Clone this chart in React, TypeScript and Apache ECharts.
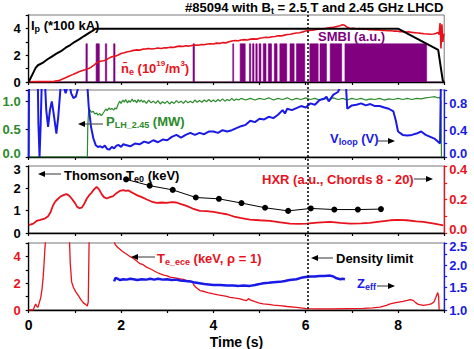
import React, { useEffect, useRef } from "react";
import * as echarts from "echarts";

const FONT = "'Liberation Sans', Arial, sans-serif";
const RED = "#e8121c";
const BLUE = "#1a1ae6";
const GREEN = "#2b8a2b";
const PURPLE = "#800080";
const BLACK = "#000000";

// ---------- data (time in s) ----------
const ipData = [
  [0, 0], [0.05, 0.35], [0.1, 0.7], [0.15, 1.05], [0.2, 1.25], [0.3, 1.42], [0.4, 1.68], [0.5, 1.9],
  [0.6, 2.12], [0.7, 2.3], [0.8, 2.56], [0.9, 2.76], [1.0, 3.0], [1.1, 3.2], [1.2, 3.43], [1.3, 3.65],
  [1.38, 3.82], [1.45, 3.98], [3, 3.98], [6, 3.98], [8.0, 3.98], [8.87, 2.4], [8.93, 1.0], [8.97, 0.1], [9.0, 0],
];

const neData = [
  [0, 0.02], [0.2, 0.03], [0.4, 0.03], [0.55, 0.05], [0.65, 0.1], [0.72, 0.2], [0.8, 0.32], [0.88, 0.45],
  [0.95, 0.55], [1.02, 0.66], [1.1, 0.78], [1.17, 0.86], [1.22, 0.92], [1.3, 1.0], [1.36, 1.12], [1.42, 1.28],
  [1.48, 1.45], [1.55, 1.55], [1.62, 1.58], [1.68, 1.65], [1.74, 1.78], [1.8, 1.88], [1.87, 1.93], [1.94, 2.02],
  [2.0, 2.12], [2.07, 2.18], [2.14, 2.26], [2.2, 2.3], [2.27, 2.36], [2.34, 2.4], [2.4, 2.38], [2.47, 2.45],
  [2.54, 2.47], [2.6, 2.5], [2.67, 2.46], [2.74, 2.5], [2.8, 2.54], [2.87, 2.5], [2.94, 2.56], [3.0, 2.55],
  [3.07, 2.6], [3.14, 2.58], [3.2, 2.64], [3.27, 2.68], [3.34, 2.65], [3.4, 2.7], [3.47, 2.68], [3.54, 2.73],
  [3.6, 2.76], [3.67, 2.74], [3.74, 2.8], [3.8, 2.78], [3.87, 2.84], [3.94, 2.86], [4.0, 2.84], [4.07, 2.9],
  [4.14, 2.88], [4.2, 2.94], [4.27, 2.92], [4.34, 3.0], [4.4, 3.06], [4.47, 3.1], [4.54, 3.08], [4.6, 3.13],
  [4.67, 3.16], [4.74, 3.14], [4.8, 3.2], [4.87, 3.22], [4.94, 3.2], [5.0, 3.27], [5.07, 3.3], [5.14, 3.34],
  [5.2, 3.32], [5.27, 3.38], [5.34, 3.4], [5.4, 3.45], [5.47, 3.44], [5.54, 3.5], [5.6, 3.54], [5.67, 3.56],
  [5.74, 3.62], [5.8, 3.66], [5.87, 3.68], [5.94, 3.74], [6.0, 3.8], [6.07, 3.84], [6.14, 3.86], [6.2, 3.9],
  [6.27, 3.94], [6.34, 3.96], [6.4, 3.98], [6.47, 4.02], [6.54, 4.06], [6.6, 4.08], [6.67, 4.14], [6.74, 4.2],
  [6.8, 4.28], [6.84, 4.24], [6.9, 4.08], [6.97, 3.98], [7.04, 4.0], [7.1, 3.96], [7.17, 3.98], [7.24, 3.93],
  [7.3, 3.95], [7.37, 3.9], [7.44, 3.92], [7.5, 3.88], [7.57, 3.9], [7.64, 3.85], [7.7, 3.86], [7.77, 3.82],
  [7.84, 3.83], [7.9, 3.8], [7.97, 3.8], [8.04, 3.76], [8.1, 3.77], [8.17, 3.73], [8.24, 3.74], [8.3, 3.7],
  [8.37, 3.68], [8.44, 3.66], [8.5, 3.63], [8.57, 3.6], [8.64, 3.58], [8.7, 3.56], [8.77, 3.58], [8.82, 3.62],
  [8.86, 3.7], [8.89, 3.55], [8.91, 4.4], [8.93, 2.5], [8.95, 4.3], [8.97, 3.0], [8.99, 3.6],
];

const smbiStart = [1.24, 1.46, 1.66, 1.84, 3.56, 4.42, 4.58, 4.78, 4.85, 4.92, 4.99, 5.08, 5.19, 5.32, 5.44, 5.66, 5.8, 6.09, 6.31, 6.53, 6.85];
const smbiEnd = [1.27, 1.53, 1.69, 1.87, 3.59, 4.44, 4.69, 4.81, 4.88, 4.95, 5.03, 5.14, 5.26, 5.38, 5.59, 5.75, 5.98, 6.27, 6.45, 6.78, 8.62];
const smbiLevel = 2.85;

const pLhData = [
  [0, 0], [1.27, 0], [1.28, 0.55], [1.3, 0.86], [1.33, 0.84], [1.36, 0.8], [1.4, 0.82], [1.43, 0.77], [1.47, 0.79],
  [1.5, 0.75], [1.54, 0.78], [1.57, 0.74], [1.6, 0.77], [1.64, 0.82], [1.67, 0.86], [1.7, 0.83], [1.74, 0.88],
  [1.77, 0.85], [1.8, 0.87], [1.84, 0.84], [1.87, 0.88], [1.9, 0.86], [1.94, 0.95], [1.97, 1.0], [2.0, 0.96],
  [2.04, 1.02], [2.07, 0.98], [2.1, 1.03], [2.14, 0.97], [2.17, 1.01], [2.2, 0.98], [2.24, 1.04], [2.27, 0.99],
  [2.3, 1.02], [2.34, 0.97], [2.37, 1.03], [2.4, 0.99], [2.44, 1.02], [2.47, 0.98], [2.5, 1.01], [2.55, 0.96],
  [2.6, 1.02], [2.65, 0.97], [2.7, 1.0], [2.75, 0.96], [2.8, 1.01], [2.85, 0.95], [2.9, 0.99], [2.95, 0.96],
  [3.0, 1.0], [3.05, 0.95], [3.1, 0.99], [3.15, 0.96], [3.2, 1.01], [3.25, 0.97], [3.3, 1.0], [3.35, 0.96],
  [3.4, 1.01], [3.45, 0.97], [3.5, 1.0], [3.55, 0.97], [3.6, 1.02], [3.65, 0.98], [3.7, 1.01], [3.75, 0.98],
  [3.8, 1.02], [3.85, 0.99], [3.9, 1.03], [3.95, 0.99], [4.0, 1.02], [4.05, 0.99], [4.1, 1.03], [4.15, 1.0],
  [4.2, 1.04], [4.25, 1.0], [4.3, 1.03], [4.35, 1.01], [4.4, 1.05], [4.45, 1.01], [4.5, 1.04], [4.55, 1.02],
  [4.6, 1.05], [4.7, 1.02], [4.8, 1.05], [4.9, 1.02], [5.0, 1.05], [5.1, 1.03], [5.2, 1.06], [5.3, 1.02],
  [5.4, 1.05], [5.5, 1.03], [5.6, 1.06], [5.7, 1.02], [5.8, 1.05], [5.9, 1.03], [6.0, 1.06], [6.1, 1.03],
  [6.2, 1.05], [6.3, 1.02], [6.4, 1.05], [6.5, 1.03], [6.6, 1.06], [6.7, 1.03], [6.8, 1.05], [6.9, 1.02],
  [7.0, 1.05], [7.1, 1.03], [7.2, 1.05], [7.3, 1.02], [7.4, 1.04], [7.5, 1.03], [7.6, 1.05], [7.7, 1.02],
  [7.8, 1.04], [7.9, 1.03], [8.0, 1.05], [8.1, 1.03], [8.2, 1.05], [8.3, 1.03], [8.4, 1.05], [8.5, 1.04],
  [8.6, 1.06], [8.7, 1.07], [8.8, 1.08], [8.85, 1.06], [8.9, 1.07], [8.93, 1.0], [8.94, 0],
];

const vLoopData = [
  [0, 0], [0.01, 1.5], [0.19, 1.5], [0.21, 0.5], [0.235, 0], [0.26, 0.5], [0.29, 1.3], [0.34, 1.3], [0.38, 0.7],
  [0.42, 0.45], [0.46, 0.7], [0.5, 0.83], [0.54, 0.65], [0.6, 0.35], [0.64, 0.6], [0.68, 0.95], [0.72, 1.3],
  [0.76, 1.05], [0.8, 0.95], [0.84, 1.05], [0.88, 1.1], [0.92, 0.95], [0.97, 0.88], [1.02, 0.9], [1.06, 1.0],
  [1.1, 1.3], [1.25, 1.3], [1.3, 0.75], [1.35, 0.45], [1.4, 0.28], [1.45, 0.18], [1.5, 0.15], [1.55, 0.16],
  [1.6, 0.14], [1.65, 0.17], [1.7, 0.12], [1.75, 0.11], [1.8, 0.15], [1.85, 0.13], [1.9, 0.17], [1.95, 0.18],
  [2.0, 0.15], [2.05, 0.19], [2.1, 0.18], [2.2, 0.16], [2.3, 0.2], [2.4, 0.19], [2.5, 0.23], [2.6, 0.21],
  [2.7, 0.25], [2.8, 0.22], [2.9, 0.26], [3.0, 0.25], [3.1, 0.3], [3.2, 0.33], [3.3, 0.29], [3.4, 0.33],
  [3.5, 0.36], [3.6, 0.33], [3.7, 0.36], [3.8, 0.34], [3.9, 0.38], [4.0, 0.38], [4.1, 0.36], [4.2, 0.4],
  [4.3, 0.38], [4.4, 0.4], [4.5, 0.43], [4.6, 0.46], [4.7, 0.48], [4.8, 0.54], [4.9, 0.52], [5.0, 0.57],
  [5.1, 0.56], [5.2, 0.6], [5.3, 0.58], [5.4, 0.63], [5.5, 0.7], [5.55, 0.65], [5.6, 0.72], [5.7, 0.7],
  [5.8, 0.73], [5.9, 0.76], [6.0, 0.74], [6.1, 0.8], [6.2, 0.78], [6.3, 0.85], [6.4, 0.87], [6.45, 0.9],
  [6.5, 0.83], [6.6, 0.93], [6.7, 0.97], [6.78, 1.1], [6.87, 1.1], [6.9, 0.72], [7.0, 0.77], [7.1, 0.78],
  [7.2, 0.8], [7.3, 0.77], [7.4, 0.79], [7.5, 0.76], [7.6, 0.76], [7.7, 0.74], [7.8, 0.72], [7.9, 0.68],
  [7.95, 0.55], [8.0, 0.38], [8.1, 0.33], [8.2, 0.32], [8.3, 0.33], [8.4, 0.35], [8.5, 0.38], [8.6, 0.33],
  [8.7, 0.3], [8.8, 0.27], [8.88, 0.22], [8.91, 0.2], [8.93, 1.2],
];

const thomsonTime = [2.11, 2.62, 3.12, 3.62, 4.12, 4.61, 5.12, 5.62, 6.11, 6.62, 7.13, 7.63];
const thomsonTe0 = [2.4, 2.12, 1.93, 1.59, 1.53, 1.34, 1.13, 0.99, 1.1, 1.05, 1.05, 1.07];

const hxrData = [
  [0, 0.046], [0.05, 0.052], [0.1, 0.056], [0.17, 0.072], [0.25, 0.078], [0.35, 0.086], [0.42, 0.1],
  [0.47, 0.122], [0.52, 0.16], [0.57, 0.186], [0.62, 0.2], [0.68, 0.216], [0.75, 0.226], [0.82, 0.232],
  [0.88, 0.222], [0.93, 0.206], [1.0, 0.18], [1.05, 0.156], [1.1, 0.148], [1.15, 0.152], [1.2, 0.172],
  [1.26, 0.206], [1.31, 0.226], [1.36, 0.24], [1.42, 0.262], [1.47, 0.276], [1.52, 0.262], [1.58, 0.232],
  [1.63, 0.214], [1.69, 0.206], [1.76, 0.214], [1.83, 0.22], [1.9, 0.238], [1.98, 0.252], [2.05, 0.256],
  [2.1, 0.252], [2.16, 0.254], [2.22, 0.244], [2.28, 0.236], [2.34, 0.226], [2.45, 0.214], [2.56, 0.2],
  [2.66, 0.188], [2.77, 0.18], [2.88, 0.182], [2.99, 0.18], [3.1, 0.184], [3.2, 0.182], [3.3, 0.172],
  [3.42, 0.162], [3.55, 0.146], [3.71, 0.132], [3.85, 0.13], [4.0, 0.126], [4.15, 0.118], [4.29, 0.112],
  [4.36, 0.106], [4.45, 0.098], [4.58, 0.09], [4.7, 0.084], [4.79, 0.08], [5.0, 0.076], [5.23, 0.072],
  [5.45, 0.064], [5.66, 0.056], [5.85, 0.055], [6.02, 0.056], [6.25, 0.062], [6.53, 0.066], [6.75, 0.06],
  [6.96, 0.056], [7.2, 0.058], [7.39, 0.06], [7.6, 0.068], [7.83, 0.076], [8.0, 0.078], [8.19, 0.076],
  [8.4, 0.07], [8.55, 0.066], [8.75, 0.058], [8.9, 0.05], [8.98, 0.046],
];

const teEceData = [
  [0, 0], [0.1, 0], [0.13, 0.3], [0.15, 0.45], [0.18, 0.25], [0.2, 0.2], [0.23, 0.55], [0.26, 0.9], [0.29, 1.6],
  [0.31, 2.3], [0.33, 3.3], [0.35, 4.5], [0.37, 5.5], [0.88, 5.5], [0.9, 3.5], [0.93, 2.1], [0.97, 1.68],
  [1.02, 1.35], [1.08, 1.05], [1.13, 0.78], [1.18, 0.55], [1.23, 0.42], [1.27, 0.3], [1.29, 0.6], [1.31, 5.5],
  [1.83, 5.5], [1.87, 4.9], [1.92, 4.7], [1.97, 4.55], [2.02, 4.4], [2.08, 4.25], [2.14, 4.12], [2.2, 3.98],
  [2.27, 3.85], [2.34, 3.65], [2.41, 3.46], [2.48, 3.38], [2.55, 3.2], [2.63, 3.08], [2.7, 2.95], [2.78, 2.8],
  [2.85, 2.7], [2.93, 2.6], [3.0, 2.55], [3.06, 2.45], [3.13, 2.42], [3.2, 2.38], [3.28, 2.33], [3.35, 2.28],
  [3.42, 2.2], [3.5, 2.15], [3.55, 2.1], [3.58, 1.85], [3.62, 1.7], [3.71, 1.45], [3.8, 1.38], [3.9, 1.28],
  [4.0, 1.2], [4.1, 1.13], [4.2, 1.08], [4.29, 1.02], [4.36, 0.95], [4.45, 0.9], [4.58, 0.83], [4.65, 0.75],
  [4.72, 0.7], [4.76, 0.85], [4.8, 0.75], [4.9, 0.62], [5.0, 0.52], [5.08, 0.45], [5.2, 0.42], [5.3, 0.36],
  [5.44, 0.32], [5.6, 0.26], [5.8, 0.2], [6.02, 0.1], [6.3, 0.08], [6.53, 0.08], [6.9, 0.1], [7.25, 0.12],
  [7.45, 0.16], [7.61, 0.22], [7.75, 0.35], [7.83, 0.45], [7.95, 0.55], [8.11, 0.65], [8.2, 0.72], [8.26, 0.77],
  [8.33, 0.72], [8.38, 0.55], [8.44, 0.42], [8.55, 0.35], [8.65, 0.4], [8.72, 0.45], [8.78, 0.62], [8.82, 0.95],
  [8.86, 1.3], [8.88, 1.0], [8.89, 0],
];

const zeffData = [
  [1.85, 1.64], [1.88, 1.72], [1.92, 1.7], [1.98, 1.67], [2.05, 1.69], [2.12, 1.68], [2.2, 1.7], [2.27, 1.69],
  [2.35, 1.67], [2.45, 1.69], [2.55, 1.68], [2.63, 1.7], [2.72, 1.68], [2.8, 1.7], [2.9, 1.68], [2.99, 1.69],
  [3.1, 1.67], [3.2, 1.68], [3.28, 1.66], [3.4, 1.65], [3.5, 1.64], [3.57, 1.62], [3.7, 1.6], [3.8, 1.58],
  [3.9, 1.57], [4.0, 1.56], [4.15, 1.56], [4.3, 1.55], [4.43, 1.55], [4.55, 1.54], [4.65, 1.55], [4.79, 1.54],
  [4.9, 1.56], [5.0, 1.58], [5.08, 1.6], [5.2, 1.61], [5.3, 1.62], [5.44, 1.63], [5.55, 1.65], [5.65, 1.67],
  [5.8, 1.69], [5.9, 1.72], [6.0, 1.74], [6.1, 1.75], [6.2, 1.75], [6.3, 1.76], [6.4, 1.76], [6.53, 1.77],
  [6.6, 1.75], [6.67, 1.71], [6.75, 1.69], [6.8, 1.7], [6.85, 1.69],
];

const densityLimitTime = 6.05;
const timeMax = 9;

// ---------- layout ----------
const GRID_LEFT = 28.7;
const GRID_WIDTH = 415.5;
const GRID_TOPS = [15, 90, 166, 243];
const GRID_HEIGHT = 67;

// 'lo' nudges the lowest label up, 'hi' nudges the highest label down
const fmt = (step: number, dec: number, min: number, maxLabel: number, shiftLo = false, shiftHi = false) => (v: number) => {
  const r = v / step;
  if (!(Math.abs(r - Math.round(r)) < 1e-6 && v <= maxLabel + 1e-9)) return "";
  const s = v.toFixed(dec);
  if (shiftLo && Math.abs(v - min) < 1e-9) return `{lo|${s}}`;
  if (shiftHi && Math.abs(v - maxLabel) < 1e-9) return `{hi|${s}}`;
  return s;
};

const labelFont = { fontFamily: FONT, fontWeight: "bold", fontSize: 13 };

function yAx(grid: number, pos: "left" | "right", min: number, max: number, interval: number,
  formatter: (v: number) => string, labelColor: string, lineColor: string) {
  return {
    type: "value",
    gridIndex: grid,
    position: pos,
    min, max, interval,
    axisLine: { show: true, onZero: false, lineStyle: { color: lineColor, width: 1.3 } },
    axisTick: { show: true, inside: false, length: 3, lineStyle: { color: lineColor, width: 1.2 } },
    splitLine: { show: false },
    axisLabel: {
      ...labelFont, color: labelColor, margin: pos === "left" ? 8 : 5, formatter,
      rich: {
        lo: { ...labelFont, color: labelColor, padding: [0, 0, 7, 0] },
        hi: { ...labelFont, color: labelColor, padding: [7, 0, 0, 0] },
      },
    },
  };
}

function xAx(grid: number, showLabels: boolean) {
  return {
    type: "value",
    gridIndex: grid,
    min: 0, max: timeMax, interval: 1,
    axisLine: { show: true, onZero: false, lineStyle: { color: BLACK, width: 1.3 } },
    axisTick: { show: true, inside: false, length: 3, lineStyle: { color: BLACK, width: 1.2 } },
    splitLine: { show: false },
    axisLabel: {
      show: showLabels, ...labelFont, fontSize: 14, color: BLACK, margin: 8,
      formatter: (v: number) => (v % 2 === 0 && v < 9 ? String(v) : ""),
    },
    name: showLabels ? "Time (s)" : "",
    nameLocation: "middle",
    nameGap: 25,
    nameTextStyle: { color: BLACK, fontFamily: FONT, fontWeight: "bold", fontSize: 14 },
  };
}

const rich = {
  s: { fontSize: 9, fontWeight: "bold", fontFamily: FONT, verticalAlign: "bottom", lineHeight: 10 },
  u: { fontSize: 8, fontWeight: "bold", fontFamily: FONT, verticalAlign: "top", lineHeight: 9 },
};

function txt(id: string, x: number, y: number, text: string, fill: string, size = 13) {
  return {
    id, type: "text", x, y, silent: true, z: 50,
    style: {
      text, fill, fontFamily: FONT, fontWeight: "bold", fontSize: size, lineHeight: 17,
      align: "left", verticalAlign: "middle", rich,
    },
  };
}

function arrow(id: string, x1: number, y: number, x2: number) {
  const dir = Math.sign(x2 - x1);
  return [
    { id: id + "l", type: "line", silent: true, z: 50, shape: { x1, y1: y, x2: x2 - dir * 5, y2: y }, style: { stroke: "#555", lineWidth: 1.2 } },
    { id: id + "h", type: "polygon", silent: true, z: 50, shape: { points: [[x2, y], [x2 - dir * 7, y - 3], [x2 - dir * 7, y + 3]] }, style: { fill: BLACK } },
  ];
}

function buildSmbi() {
  const d: number[][] = [[0, 0]];
  smbiStart.forEach((s, i) => {
    d.push([s, 0], [s, smbiLevel], [smbiEnd[i], smbiLevel], [smbiEnd[i], 0]);
  });
  d.push([timeMax, 0]);
  return d;
}

function line(name: string, data: any[], xi: number, yi: number, color: string, width: number, extra: any = {}) {
  return {
    name, type: "line", data, xAxisIndex: xi, yAxisIndex: yi,
    symbol: "none", showSymbol: false, smooth: false, clip: true,
    lineStyle: { color, width }, itemStyle: { color },
    ...extra,
  };
}

function buildOption() {
  return {
    animation: false,
    backgroundColor: "#ffffff",
    grid: GRID_TOPS.map((top) => ({
      left: GRID_LEFT, top, width: GRID_WIDTH, height: GRID_HEIGHT,
      show: true, borderColor: "#777", borderWidth: 1, backgroundColor: "transparent",
      containLabel: false, outerBoundsMode: "none",
    })),
    xAxis: [xAx(0, false), xAx(1, false), xAx(2, false), xAx(3, true)],
    yAxis: [
      yAx(0, "left", 0, 5, 1, fmt(2, 0, 0, 4), BLACK, BLACK),
      yAx(1, "left", 0, 1.2, 0.5, fmt(0.5, 1, 0, 1.0, true), GREEN, BLACK),
      yAx(1, "right", 0, 1.0, 0.2, fmt(0.4, 1, 0, 0.8, true), BLUE, BLUE),
      yAx(2, "left", 0, 3, 1, fmt(1, 0, 0, 3, false, true), BLACK, BLACK),
      yAx(2, "right", 0, 0.4, 0.1, fmt(0.2, 1, 0, 0.4, true, true), RED, RED),
      yAx(3, "left", 0, 5, 1, fmt(2, 0, 0, 4), RED, BLACK),
      yAx(3, "right", 1.0, 2.5, 0.25, fmt(0.5, 1, 1.0, 2.5, false, true), BLUE, BLUE),
    ],
    series: [
      line("SMBI", buildSmbi(), 0, 0, PURPLE, 0.6, { areaStyle: { color: PURPLE, opacity: 1 } }),
      line("ne", neData, 0, 0, RED, 1.6),
      line("Ip", ipData, 0, 0, BLACK, 2),
      line("P_LH", pLhData, 1, 1, GREEN, 1.2),
      line("Vloop", vLoopData, 1, 2, BLUE, 2),
      line("HXR", hxrData, 2, 4, RED, 1.8),
      line("Thomson", thomsonTime.map((t, i) => [t, thomsonTe0[i]]), 2, 3, BLACK, 1, {
        symbol: "circle", showSymbol: true, symbolSize: 6,
      }),
      line("Te_ece", teEceData, 3, 5, RED, 1.3),
      line("Zeff", zeffData, 3, 6, BLUE, 2.5),
    ],
  };
}

export default function App() {
  const ref = useRef<HTMLDivElement>(null);
  useEffect(() => {
    if (!ref.current) return;
    const chart = echarts.init(ref.current, null, { renderer: "svg" });
    chart.setOption(buildOption() as any);
    const xp = chart.convertToPixel({ xAxisIndex: 0 } as any, densityLimitTime) as unknown as number;
    const graphics: any[] = [
      {
        id: "dl", type: "line", silent: true, z: 40,
        shape: { x1: xp, y1: 11, x2: xp, y2: 310 },
        style: { stroke: BLACK, lineWidth: 1.5, lineDash: [2, 2] },
      },
      txt("title", 185, 7, "#85094 with B{s|t} = 2.5 T and 2.45 GHz LHCD", BLACK),
      txt("ip", 31, 25, "I{s|p} (*100 kA)", BLACK),
      txt("ne", 121, 68, "n\u0304{s|e} (10{u|19}/m{u|3})", RED),
      txt("smbi", 318, 36, "SMBI (a.u.)", PURPLE),
      txt("plh", 106, 121, "P{s|LH_2.45} (MW)", GREEN),
      ...arrow("aplh", 103, 124, 78),
      txt("vloop", 330, 138, "V{s|loop} (V)", BLUE),
      ...arrow("avl", 378, 141, 395),
      ...arrow("ath", 61, 174, 38),
      txt("thomson", 64, 175, "Thomson T{s|e0} (keV)", BLACK),
      txt("hxr", 262, 179, "HXR (a.u., Chords 8 - 20)", RED),
      ...arrow("ahxr", 414, 179, 433),
      ...arrow("ate", 155, 257, 131),
      txt("teece", 157, 258, "T{s|e_ece} (keV, \u03c1 = 1)", RED),
      ...arrow("adl", 333, 258, 311),
      txt("dlim", 336, 258, "Density limit", BLACK),
      txt("zeff", 357, 283, "Z{s|eff}", BLUE),
      ...arrow("az", 377, 286, 395),
    ];
    chart.setOption({ graphic: graphics } as any);
    return () => chart.dispose();
  }, []);
  return <div ref={ref} style={{ position: "absolute", left: 0, top: 0, width: 474, height: 349 }} />;
}
